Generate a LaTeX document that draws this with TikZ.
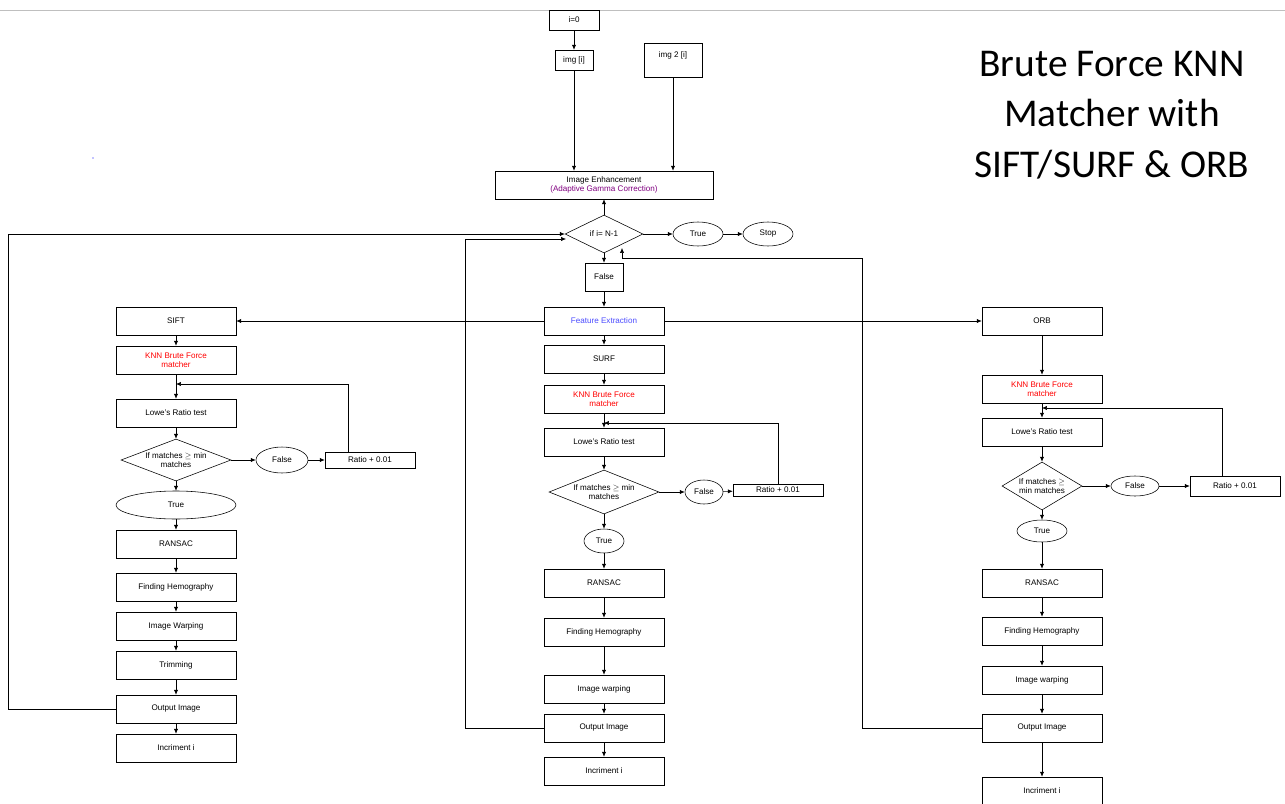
\documentclass[tikz,border=0pt]{standalone}
\usepackage{fontspec}
\setmainfont{Liberation Sans}
\newfontfamily\titlefont{Carlito}
\usetikzlibrary{shapes.geometric,arrows.meta}
\begin{document}
\begin{tikzpicture}[x=0.05cm,y=-0.05cm,
  every node/.style={font=\fontsize{11.5}{13}\selectfont,inner sep=0pt,align=center},
  box/.style={draw,thick,minimum width=6cm,minimum height=1.4cm},
  sbox/.style={draw,thick},
  circ/.style={draw,thick,ellipse},
  arr/.style={-{Latex[length=7pt,width=6pt]},thick},
  ln/.style={thick}]
\useasboundingbox (0,0) rectangle (1285,804);
\draw[gray!50] (0,10) -- (1285,10);
\fill[blue] (93,158) circle (0.6);
\node[font=\titlefont\fontsize{56}{72}\selectfont,align=center] (title) at (1112,115) {Brute Force KNN\\Matcher with\\SIFT/SURF \& ORB};
% top
\node[sbox,minimum width=2.5cm,minimum height=1cm] (i0) at (574,20) {i=0};
\node[sbox,minimum width=1.9cm,minimum height=1cm] (img) at (574,60) {img [i]};
\node[sbox,minimum width=2.9cm,minimum height=1.7cm,text depth=0.5cm] (img2) at (673,60) {img 2 [i]};
\node[sbox,minimum width=10.9cm,minimum height=1.4cm] (ie) at (604,185) {Image Enhancement\\\textcolor{violet}{(Adaptive Gamma Correction)}};
\node[draw,thick,diamond,minimum width=3.9cm,minimum height=1.9cm,aspect=2] (d0) at (604,234) {if i= N-1};
\node[circ,minimum width=2.5cm,minimum height=1.2cm] (t0) at (698,234) {True};
\node[circ,minimum width=2.5cm,minimum height=1.2cm] (stop) at (768,234) {Stop};
\node[sbox,minimum width=1.9cm,minimum height=1.4cm] (f0) at (604,277) {False};
\node[box] (fe) at (604,321) {\textcolor{blue!70}{Feature Extraction}};
\draw[arr] (i0) -- (img);
\draw[arr] (img) -- (img.south |- ie.north);
\draw[arr] (img2) -- (img2.south |- ie.north);
\draw[arr] (d0) -- (ie);
\draw[arr] (d0) -- (t0);
\draw[arr] (t0) -- (stop);
\draw[arr] (d0) -- (f0);
\draw[arr] (f0) -- (fe);
% left
\node[box] (sift) at (176,321) {SIFT};
\node[box] (lk) at (176,360) {\textcolor{red}{KNN Brute Force}\\\textcolor{red}{matcher}};
\node[box] (ll) at (176,413) {Lowe's Ratio test};
\node[draw,thick,diamond,minimum width=5.5cm,minimum height=2.1cm,aspect=2.6] (ld) at (176,460) {If matches $\geq$ min\\matches};
\node[circ,minimum width=2.6cm,minimum height=1.3cm] (lf) at (282,460) {False};
\node[sbox,minimum width=4.5cm,minimum height=0.8cm] (lr) at (370,460) {Ratio + 0.01};
\node[circ,minimum width=6cm,minimum height=1.4cm] (lt) at (176,505) {True};
\node[box] (lran) at (176,544) {RANSAC};
\node[box] (lfh) at (176,587) {Finding Hemography};
\node[box] (liw) at (176,626) {Image Warping};
\node[box] (ltr) at (176,665) {Trimming};
\node[box] (lo) at (176,709) {Output Image};
\node[box] (li) at (176,748) {Incriment i};
\draw[arr] (fe) -- (sift);
\draw[arr] (sift) -- (lk);
\draw[arr] (lk) -- (ll);
\draw[arr] (ll) -- (ld);
\draw[arr] (ld) -- (lf);
\draw[arr] (lf) -- (lr);
\draw[arr] (ld) -- (lt);
\draw[arr] (lt) -- (lran);
\draw[arr] (lran) -- (lfh);
\draw[arr] (lfh) -- (liw);
\draw[arr] (liw) -- (ltr);
\draw[arr] (ltr) -- (lo);
\draw[arr] (lo) -- (li);
\coordinate (lc) at (176,384);
\draw[arr] (lr.north -| 348,0) -- (348,384) -- (lc);
\draw[arr] (lo.west) -- (8,709) -- (8,234) -- (d0.west);
% middle
\node[box] (ms) at (604,359) {SURF};
\node[box] (mk) at (604,399) {\textcolor{red}{KNN Brute Force}\\\textcolor{red}{matcher}};
\node[box] (ml) at (604,442) {Lowe's Ratio test};
\node[draw,thick,diamond,minimum width=5.5cm,minimum height=2.2cm,aspect=2.5] (md) at (604,492) {If matches $\geq$ min\\matches};
\node[circ,minimum width=1.9cm,minimum height=1.2cm] (mf) at (704,492) {False};
\node[sbox,minimum width=4.5cm,minimum height=0.6cm] (mr) at (778,490) {Ratio + 0.01};
\node[circ,minimum width=2cm,minimum height=1.2cm] (mt) at (604,541) {True};
\node[box] (mran) at (604,583) {RANSAC};
\node[box] (mfh) at (604,632) {Finding Hemography};
\node[box] (miw) at (604,689) {Image warping};
\node[box] (mo) at (604,728) {Output Image};
\node[box] (mi) at (604,771) {Incriment i};
\draw[arr] (fe) -- (ms);
\draw[arr] (ms) -- (mk);
\draw[arr] (mk) -- (ml);
\draw[arr] (ml) -- (md);
\draw[arr] (md) -- (mf);
\draw[arr] (mf) -- (mr);
\draw[arr] (md) -- (mt);
\draw[arr] (mt) -- (mran);
\draw[arr] (mran) -- (mfh);
\draw[arr] (mfh) -- (miw);
\draw[arr] (miw) -- (mo);
\draw[arr] (mo) -- (mi);
\coordinate (mc) at (604,423);
\draw[arr] (mr.north -| 778,0) -- (778,423) -- (mc);
\coordinate (d0w2) at (566,239);
\draw[arr] (mo.west) -- (465,728) -- (465,239) -- (d0w2);
% right
\node[box] (ro) at (1042,321) {ORB};
\node[box] (rk) at (1042,389) {\textcolor{red}{KNN Brute Force}\\\textcolor{red}{matcher}};
\node[box] (rl) at (1042,432) {Lowe's Ratio test};
\node[draw,thick,diamond,minimum width=4cm,minimum height=2.4cm,aspect=1.7] (rd) at (1042,486) {If matches $\geq$\\min matches};
\node[circ,minimum width=2.4cm,minimum height=1cm] (rf) at (1135,486) {False};
\node[sbox,minimum width=4.5cm,minimum height=1cm] (rr) at (1235,486) {Ratio + 0.01};
\node[circ,minimum width=2.5cm,minimum height=1.1cm] (rt) at (1042,531) {True};
\node[box] (rran) at (1042,583) {RANSAC};
\node[box] (rfh) at (1042,631) {Finding Hemography};
\node[box] (riw) at (1042,680) {Image warping};
\node[box] (rout) at (1042,728) {Output Image};
\node[box] (ri) at (1042,791) {Incriment i};
\draw[arr] (fe) -- (ro);
\draw[arr] (ro) -- (rk);
\draw[arr] (rk) -- (rl);
\draw[arr] (rl) -- (rd);
\draw[arr] (rd) -- (rf);
\draw[arr] (rf) -- (rr);
\draw[arr] (rd) -- (rt);
\draw[arr] (rt) -- (rran);
\draw[arr] (rran) -- (rfh);
\draw[arr] (rfh) -- (riw);
\draw[arr] (riw) -- (rout);
\draw[arr] (rout) -- (ri);
\coordinate (rc) at (1042,408);
\draw[arr] (rr.north -| 1222,0) -- (1222,408) -- (rc);
\coordinate (d0s) at (622,248);
\draw[arr] (rout.west) -- (862,728) -- (862,258) -- (622,258) -- (d0s);
\end{tikzpicture}
\end{document}
